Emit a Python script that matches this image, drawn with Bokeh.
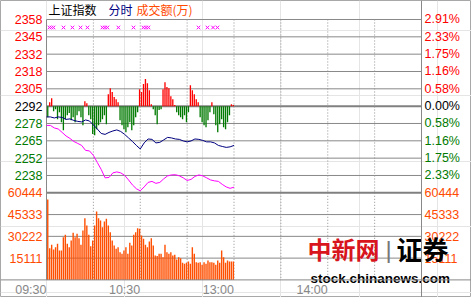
import numpy as np
from bokeh.plotting import figure
from bokeh.models import Range1d, Span, ColumnDataSource
from bokeh.core.properties import value
from bokeh.embed import file_html
from bokeh.resources import INLINE

# ---------------- data ----------------
prev_close = 2292.0
price_step = 13.2
price_labels = ["2358", "2345", "2332", "2318", "2305", "2292", "2278", "2265", "2252", "2238"]
pct_labels = ["2.91%", "2.33%", "1.75%", "1.16%", "0.58%", "0.00%", "0.58%", "1.16%", "1.75%", "2.33%"]
vol_levels = [60444, 45333, 30222, 15111]
vol_labels = ["60444", "45333", "30222", "15111"]
time_ticks = [0, 60, 120, 180]
time_labels = ["09:30", "10:30", "13:00", "14:00"]
grid_minutes = [30, 60, 90, 120, 150, 180, 210]

bar_minutes = np.linspace(0.8, 119.6, 96)
volume = [55800, 22000, 24400, 21100, 22700, 25100, 20400, 20400, 29600, 31300,
          25100, 22700, 27300, 32700, 29600, 32000, 28900, 24400, 34300, 42800,
          37800, 31300, 23400, 27300, 37800, 47500, 42800, 41200, 36600, 40500,
          42400, 37800, 33100, 27300, 23900, 21600, 22700, 19200, 18100, 20400,
          22700, 18100, 25800, 23900, 31300, 33100, 35900, 35500, 30800, 28500,
          24400, 22700, 26700, 28900, 23900, 16900, 16500, 18100, 18100, 15800,
          24400, 19200, 18100, 19200, 16900, 17400, 14200, 15800, 15100, 11900,
          11200, 11900, 12800, 11200, 22700, 18100, 12300, 11900, 12300, 10500,
          12300, 11200, 13500, 12300, 12300, 11900, 10500, 13500, 11900, 20400,
          15800, 11900, 13500, 12800, 12800, 12800]
power = [-8.4, 3.0, 6.1, -3.8, -2.3, -9.9, -4.6, -12.2, -18.3, -9.9,
         -6.9, -5.3, -10.7, -8.4, -12.2, -6.9, -3.8, -8.4, -14.5, 3.8,
         2.3, -6.9, -9.9, -21.3, -22.1, -17.5, -14.5, -12.2, -9.9, -6.9,
         -13.7, 9.1, 13.7, 10.7, 6.9, 5.3, 3.0, -10.7, -14.5, -17.5,
         -19.8, -16.0, -12.2, -18.3, -14.5, -8.4, -4.6, 12.9, 10.7, 16.8,
         20.6, 17.5, 12.2, 1.5, -2.3, -6.9, -13.7, -3.0, -2.3, 12.9,
         18.3, 14.5, 13.7, 7.6, 5.3, 0.8, -4.6, -6.9, -8.4, -9.9,
         -6.9, -12.2, -4.6, 16.0, 12.2, 9.1, 5.3, 3.0, -8.4, -12.2,
         -14.5, -16.0, -10.7, -4.6, 3.0, -6.1, -14.5, -19.8, -13.7, -9.9,
         -16.0, -17.5, -12.2, -6.9, 1.5, 0.8]

line_minutes = np.linspace(0, 120, 49)
index_navy = [2283.8, 2283.8, 2283.0, 2283.8, 2283.4, 2281.9, 2282.3, 2281.1, 2280.4, 2280.0,
              2281.5, 2280.7, 2277.7, 2274.6, 2271.2, 2270.5, 2272.0, 2273.1, 2273.9, 2272.7,
              2270.5, 2267.8, 2265.1, 2262.1, 2259.4, 2264.0, 2267.0, 2266.7, 2264.0, 2264.4,
              2266.3, 2268.2, 2267.8, 2267.0, 2266.7, 2265.5, 2264.8, 2265.5, 2267.0, 2266.7,
              2265.9, 2264.8, 2264.8, 2264.0, 2262.1, 2261.3, 2260.6, 2261.0, 2262.1]
index_magenta = [2277.3, 2277.3, 2275.4, 2274.6, 2272.0, 2269.3, 2267.4, 2265.1, 2263.6, 2262.1,
                 2258.3, 2257.9, 2254.5, 2249.1, 2243.8, 2237.4, 2237.7, 2241.2, 2241.9, 2241.2,
                 2239.3, 2235.8, 2232.0, 2229.1, 2227.5, 2230.5, 2233.9, 2234.7, 2233.2, 2233.9,
                 2236.6, 2238.9, 2239.6, 2239.8, 2238.9, 2237.4, 2235.4, 2236.2, 2238.5, 2239.6,
                 2238.9, 2237.4, 2235.8, 2235.1, 2234.7, 2232.4, 2230.5, 2229.4, 2230.3]
signal_minutes = [1.9, 3.2, 4.5, 10.9, 16.6, 21.8, 26.2, 35.8, 37.4, 39.0,
                  46.0, 55.7, 62.0, 63.7, 65.3, 97.3, 103.0, 106.6, 109.4]

# ---------------- styles ----------------
RED = "#ff0000"
GREEN = "#007a00"
ORANGE = "#ff4a00"
GRID = "#888888"
FONT = value("Liberation Sans")
CJK = value("Noto Sans CJK SC")

top_price = prev_close + 5 * price_step
bot_price = prev_close - 5 * price_step

p = figure(width=471, height=297, min_border=0, toolbar_location=None,
           output_backend="svg", x_axis_location=None, y_axis_location=None,
           x_range=Range1d(-29.44, 272.0), y_range=Range1d(2146.26, 2372.47))
p.title.visible = False
p.background_fill_color = "white"
p.border_fill_color = "white"
p.outline_line_color = "#a8a8a8"
p.extra_y_ranges = {"vol": Range1d(-12214, 193892), "px": Range1d(297, 0)}
p.extra_x_ranges = {"px": Range1d(0, 471)}

# ---------- price grid ----------
ks = np.arange(5, -5, -1)
levels = prev_close + price_step * ks
thin = [lv for k, lv in zip(ks, levels) if k != 0]
p.segment(x0=[0] * len(thin), y0=thin, x1=[240] * len(thin), y1=thin,
          line_color=GRID, line_width=1)
p.segment(x0=[0], y0=[prev_close], x1=[240], y1=[prev_close],
          line_color="#808080", line_width=2)
# volume grid
p.segment(x0=[0] * 3, y0=vol_levels[1:], x1=[240] * 3, y1=vol_levels[1:],
          line_color=GRID, line_width=1, y_range_name="vol")
p.segment(x0=[0], y0=[vol_levels[0]], x1=[240], y1=[vol_levels[0]],
          line_color="#808080", line_width=2, y_range_name="vol")
# dotted time lines
n = len(grid_minutes)
p.segment(x0=grid_minutes, y0=[top_price] * n, x1=grid_minutes, y1=[bot_price] * n,
          line_color="#909090", line_width=1, line_dash="1 2")
p.segment(x0=grid_minutes, y0=[vol_levels[0]] * n, x1=grid_minutes, y1=[0] * n,
          line_color="#909090", line_width=1, line_dash="1 2", y_range_name="vol")
# left frame line
p.segment(x0=[0], y0=[top_price], x1=[0], y1=[bot_price], line_color=GRID, line_width=1)
p.segment(x0=[0], y0=[vol_levels[0]], x1=[0], y1=[0], line_color=GRID, line_width=1,
          y_range_name="vol")
p.add_layout(Span(location=240, dimension="height", line_color=GRID, line_width=1))
p.add_layout(Span(location=0, dimension="width", line_color=GRID, line_width=1,
                  y_range_name="vol"))

# ---------- data marks ----------
bar_colors = [RED if v >= 0 else GREEN for v in power]
p.vbar(x=bar_minutes, bottom=prev_close, top=[prev_close + v for v in power],
       width=0.85, fill_color=bar_colors, line_color=None)
p.line(line_minutes, index_navy, line_color="#000080", line_width=1)
p.line(line_minutes, index_magenta, line_color="#ff00ff", line_width=1)
p.vbar(x=bar_minutes, bottom=0, top=volume, width=0.9, fill_color="#ff4f00",
       line_color=None, y_range_name="vol")
p.scatter(x=signal_minutes, y=[27] * len(signal_minutes), marker="x", size=5,
          line_color="#ff00ff", line_width=1, y_range_name="px")

# ---------- tick labels ----------
lab_colors = [RED if k > 0 else ("black" if k == 0 else GREEN) for k in ks]
left_src = ColumnDataSource(dict(x=[0] * 10, y=list(levels), text=price_labels, c=lab_colors))
right_src = ColumnDataSource(dict(x=[240] * 10, y=list(levels), text=pct_labels, c=lab_colors))
p.text(x="x", y="y", text="text", text_color="c", source=left_src, text_font=FONT,
       text_font_size="12.5px", text_align="right", text_baseline="middle", x_offset=-4)
p.text(x="x", y="y", text="text", text_color="c", source=right_src, text_font=FONT,
       text_font_size="12.5px", text_align="left", text_baseline="middle", x_offset=3)
p.text(x=[0] * 4, y=vol_levels, text=vol_labels, text_color=ORANGE, text_font=FONT,
       text_font_size="12.5px", text_align="right", text_baseline="middle", x_offset=-4,
       y_range_name="vol")
p.text(x=[240] * 4, y=vol_levels, text=vol_labels, text_color=ORANGE, text_font=FONT,
       text_font_size="12.5px", text_align="left", text_baseline="middle", x_offset=3,
       y_range_name="vol")
p.text(x=time_ticks, y=[0] * 4, text=time_labels, text_color="#888888", text_font=FONT,
       text_font_size="12.5px", text_align="right", text_baseline="middle", y_offset=10,
       y_range_name="vol")

# ---------- header ----------
p.text(x=[48], y=[9], text=["上证指数"], text_color="black", text_font=CJK,
       text_font_size="12px", text_baseline="middle", x_range_name="px", y_range_name="px")
p.text(x=[108], y=[9], text=["分时"], text_color="#000080", text_font=CJK,
       text_font_size="12px", text_baseline="middle", x_range_name="px", y_range_name="px")
p.text(x=[136], y=[9], text=["成交额(万)"], text_color="#ff4a00", text_font=CJK,
       text_font_size="12px", text_baseline="middle", x_range_name="px", y_range_name="px")

# ---------- watermark ----------
p.text(x=[307], y=[248], text=["中新网"], text_color="#d8141c", text_font=CJK,
       text_font_size="24px", text_font_style="bold", text_baseline="middle",
       x_range_name="px", y_range_name="px")
p.text(x=[385], y=[249], text=["|"], text_color="#777777", text_font=FONT,
       text_font_size="24px", text_baseline="middle",
       x_range_name="px", y_range_name="px")
p.text(x=[396], y=[248], text=["证券"], text_color="black", text_font=CJK,
       text_font_size="26px", text_font_style="bold", text_baseline="middle",
       x_range_name="px", y_range_name="px")
p.text(x=[310], y=[278], text=["stock.chinanews.com"], text_color="black", text_font=FONT,
       text_font_size="13.5px", text_font_style="bold", text_baseline="alphabetic",
       x_range_name="px", y_range_name="px")

open("out.html", "w").write(file_html(p, INLINE))
